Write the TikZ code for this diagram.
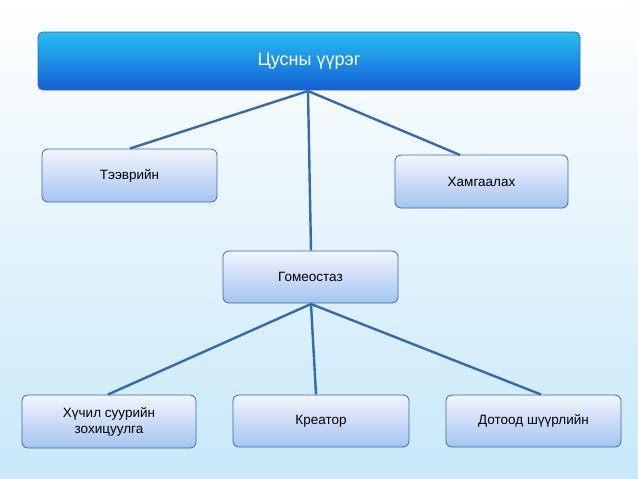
\documentclass[tikz,border=0pt]{standalone}
\usepackage{fontspec}
\setmainfont{Liberation Sans}
\definecolor{ln}{RGB}{55,105,175}
\definecolor{bxb}{RGB}{165,195,240}
\definecolor{bgb}{RGB}{200,232,248}
\definecolor{tt}{RGB}{40,190,240}
\definecolor{tb}{RGB}{20,95,215}
\begin{document}
\begin{tikzpicture}[x=1pt,y=-1pt,
  box/.style={draw=ln, line width=0.8pt, rounded corners=6pt, top color=white!85!bxb, bottom color=bxb, font=\fontsize{13.5}{16}\selectfont, align=center, inner sep=0pt},
  title/.style={draw=ln, line width=0.8pt, rounded corners=5pt, top color=tt, bottom color=tb, text=white, font=\fontsize{18}{20}\selectfont, inner sep=0pt},
  conn/.style={draw=ln, line width=2.4pt}]
\fill[top color=white, bottom color=bgb] (0,0) rectangle (638,479);
\useasboundingbox (0,0) rectangle (638,479);
\node[title, minimum width=542pt, minimum height=58pt] (top) at (309,61) {Цусны үүрэг};
\node[box, minimum width=175pt, minimum height=53pt] (tee) at (129.5,175.5) {Тээврийн};
\node[box, minimum width=173pt, minimum height=53pt] (ham) at (481.5,181.5) {Хамгаалах};
\node[box, minimum width=175pt, minimum height=52pt] (gom) at (310.5,277) {Гомеостаз};
\node[box, minimum width=174pt, minimum height=53pt] (hu) at (109,421.5) {Хүчил суурийн\\зохицуулга};
\node[box, minimum width=176pt, minimum height=52pt] (kre) at (321,421) {Креатор};
\node[box, minimum width=175pt, minimum height=52pt] (dot) at (533.5,421) {Дотоод шүүрлийн};
\coordinate (t0) at (308,91);
\coordinate (g0) at (311,304);
\draw[conn] (t0) -- (130,148.5);
\draw[conn] (t0) -- (311,250.5);
\draw[conn] (t0) -- (460,155);
\draw[conn] (g0) -- (108,394.5);
\draw[conn] (g0) -- (316,394.5);
\draw[conn] (g0) -- (541,394.5);
\end{tikzpicture}
\end{document}
